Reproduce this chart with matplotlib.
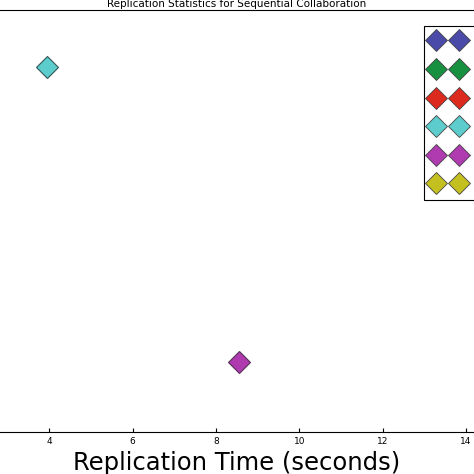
import matplotlib
matplotlib.use("Agg")
import matplotlib.pyplot as plt
from matplotlib.lines import Line2D

series_names = ["", "", "", "", "", ""]
series_colors = ["#4a4aa8", "#179040", "#dd2a1e", "#5ccccc", "#b03ab0", "#c4c020"]
point_x = [3.95, 8.55]
point_y = [90.0, 17.3]
point_colors = ["#5ccccc", "#b03ab0"]

fig = plt.figure(figsize=(4.74, 4.74), dpi=100)
ax = fig.add_axes([0, 42/474, 1, (432-10)/474])
ax.set_xlim(2.82, 14.19)
ax.set_ylim(0, 104)
for x, y, c in zip(point_x, point_y, point_colors):
    ax.plot([x], [y], marker="D", markersize=11, color=c, markeredgecolor="#335555" if c == "#5ccccc" else "#553355", markeredgewidth=0.8, linestyle="none")
ax.set_xticks([4, 6, 8, 10, 12, 14])
ax.tick_params(axis="x", labelsize=6.5, direction="in", length=3)
ax.set_yticks([])
ax.spines["left"].set_visible(False)
ax.spines["right"].set_visible(False)
ax.set_xlabel("Replication Time (seconds)", fontsize=17.5, labelpad=4)
ax.set_title("Replication Statistics for Sequential Collaboration", fontsize=7.5, pad=2)
handles = [Line2D([0], [0], marker="D", markersize=11, color=c, markeredgecolor="#444444",
                  markeredgewidth=0.6, linestyle="none") for c in series_colors]
leg = ax.legend(handles, series_names, numpoints=2, loc="upper left",
                bbox_to_anchor=(417/474, 1 - 19/474), bbox_transform=fig.transFigure,
                fancybox=False, framealpha=1, edgecolor="black", borderpad=0.6,
                labelspacing=1.05, handlelength=2.2, fontsize=10)
leg.get_frame().set_linewidth(0.8)
fig.savefig("out.png", dpi=100)
